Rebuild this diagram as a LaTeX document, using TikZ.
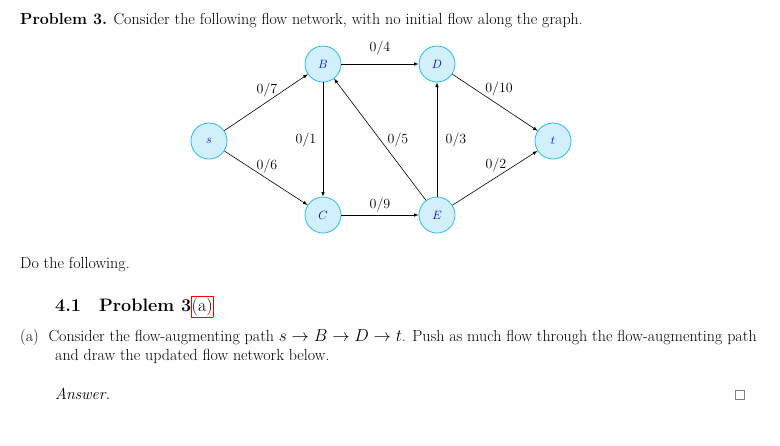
\documentclass[tikz,border=0pt]{standalone}
\usepackage{amssymb}
\begin{document}
\begin{tikzpicture}[x=1pt,y=-1pt,
  v/.style={circle,draw=cyan!85!white,line width=0.8pt,fill=cyan!18,minimum size=36pt,inner sep=0pt,text=blue!80!black,font=\fontsize{13}{15}\selectfont},
  e/.style={-latex,line width=0.6pt},
  lb/.style={font=\fontsize{14}{16}\selectfont,inner sep=1pt},
  tx/.style={anchor=base west,inner sep=0pt,font=\fontsize{16}{18}\selectfont}]
\useasboundingbox (0,0) rectangle (780,445);
\node[tx] (t1) at (20,24) {\textbf{Problem 3.} Consider the following flow network, with no initial flow along the graph.};
\node[v] (s) at (209,141) {$s$};
\node[v] (B) at (323,64) {$B$};
\node[v] (D) at (437,64) {$D$};
\node[v] (t) at (553,141) {$t$};
\node[v] (C) at (323,215) {$C$};
\node[v] (E) at (437,215) {$E$};
\draw[e] (s) -- (B); \draw[e] (s) -- (C);
\draw[e] (B) -- (D); \draw[e] (B) -- (C);
\draw[e] (E) -- (B); \draw[e] (E) -- (D);
\draw[e] (C) -- (E); \draw[e] (D) -- (t); \draw[e] (E) -- (t);
\node[lb] (l1) at (380,48) {0/4};
\node[lb] (l2) at (267,90) {0/7};
\node[lb] (l3) at (267,166) {0/6};
\node[lb] (l4) at (306,140) {0/1};
\node[lb] (l5) at (398,140) {0/5};
\node[lb] (l6) at (456,140) {0/3};
\node[lb] (l7) at (499,89) {0/10};
\node[lb] (l8) at (496,165) {0/2};
\node[lb] (l9) at (380,205) {0/9};
\node[tx] (t2) at (20,268) {Do the following.};
\node[tx,font=\fontsize{18}{20}\selectfont\bfseries] (t3) at (55,311) {4.1\quad Problem 3{\color{red}\fboxsep=1pt\fbox{\kern-1pt\color{black}\mdseries(a)\kern-1pt}}};
\node[tx] (t4) at (20,341) {(a)\ \ Consider the flow-augmenting path $s\to B\to D\to t$. Push as much flow through the flow-augmenting path};
\node[tx] (t5) at (55,360) {and draw the updated flow network below.};
\node[tx] (t6) at (55,399) {\textit{Answer.}};
\node[draw,gray,minimum size=9pt,inner sep=0pt] (q) at (740,395) {};
\end{tikzpicture}
\end{document}
